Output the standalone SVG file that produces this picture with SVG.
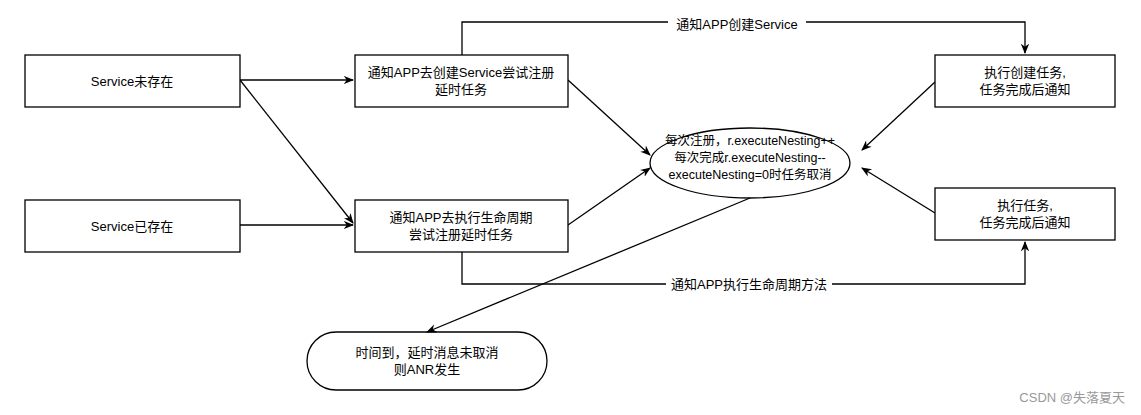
<svg xmlns="http://www.w3.org/2000/svg" width="1141" height="415" viewBox="0 0 1141 415">
<style>
.n{fill:#fff;stroke:#000;stroke-width:1.3}
.t{font-family:"Liberation Sans","Noto Sans CJK SC",sans-serif;font-size:13px;fill:#000;text-anchor:middle}
.c{fill:none;stroke:#000;stroke-width:1.3;marker-end:url(#a)}
</style>
<defs><marker id="a" viewBox="0 0 10 10" refX="9" refY="5" markerWidth="8" markerHeight="8" orient="auto-start-reverse"><path d="M0,1 L10,5 L0,9 L3,5 Z" fill="#000"/></marker></defs>
<rect width="1141" height="415" fill="#fff"/>
<g id="connectors">
<path class="c" d="M462,55 V22 H1025 V53"/>
<path class="c" d="M462,252 V284 H1025 V242"/>
<path class="c" d="M240,80 H353"/>
<path class="c" d="M240,80 L353,223"/>
<path class="c" d="M240,225 H353"/>
<path class="c" d="M568,80 L650,155"/>
<path class="c" d="M568,225 L650,168"/>
<path class="c" d="M935,82 L862,150"/>
<path class="c" d="M935,213 L862,168"/>
<rect x="668" y="16" width="138" height="16" fill="#fff"/>
<text class="t" x="737" y="29">通知APP创建Service</text>
<rect x="666" y="277" width="166" height="16" fill="#fff"/>
<text class="t" x="749" y="289">通知APP执行生命周期方法</text>
</g>
<g id="n1"><rect class="n" x="25" y="55" width="215" height="52"/><text class="t" x="132" y="86">Service未存在</text></g>
<g id="n2"><rect class="n" x="25" y="200" width="215" height="52"/><text class="t" x="132" y="231">Service已存在</text></g>
<g id="n3"><rect class="n" x="355" y="55" width="213" height="52"/><text class="t" x="461" y="77">通知APP去创建Service尝试注册</text><text class="t" x="461" y="94">延时任务</text></g>
<g id="n4"><rect class="n" x="355" y="200" width="213" height="52"/><text class="t" x="461" y="222">通知APP去执行生命周期</text><text class="t" x="461" y="239">尝试注册延时任务</text></g>
<g id="n5"><rect class="n" x="935" y="55" width="180" height="52"/><text class="t" x="1025" y="77">执行创建任务,</text><text class="t" x="1025" y="94">任务完成后通知</text></g>
<g id="n6"><rect class="n" x="935" y="188" width="180" height="52"/><text class="t" x="1025" y="210">执行任务,</text><text class="t" x="1025" y="227">任务完成后通知</text></g>
<g id="n7"><ellipse class="n" cx="750" cy="163" rx="100" ry="35"/><text class="t" x="750" y="145" style="font-size:12.5px">每次注册，r.executeNesting++</text><text class="t" x="750" y="162" style="font-size:12.5px">每次完成r.executeNesting--</text><text class="t" x="750" y="179" style="font-size:12.5px">executeNesting=0时任务取消</text></g>
<g id="n8"><rect class="n" x="307" y="332" width="240" height="58" rx="29"/><text class="t" x="427" y="357">时间到，延时消息未取消</text><text class="t" x="427" y="374">则ANR发生</text></g>
<g id="connectors2"><path class="c" d="M750,198 L427,332"/></g>
<text x="1125" y="402" font-family="Liberation Sans,Noto Sans CJK SC,sans-serif" font-size="13" fill="#999" text-anchor="end">CSDN @失落夏天</text>
</svg>
